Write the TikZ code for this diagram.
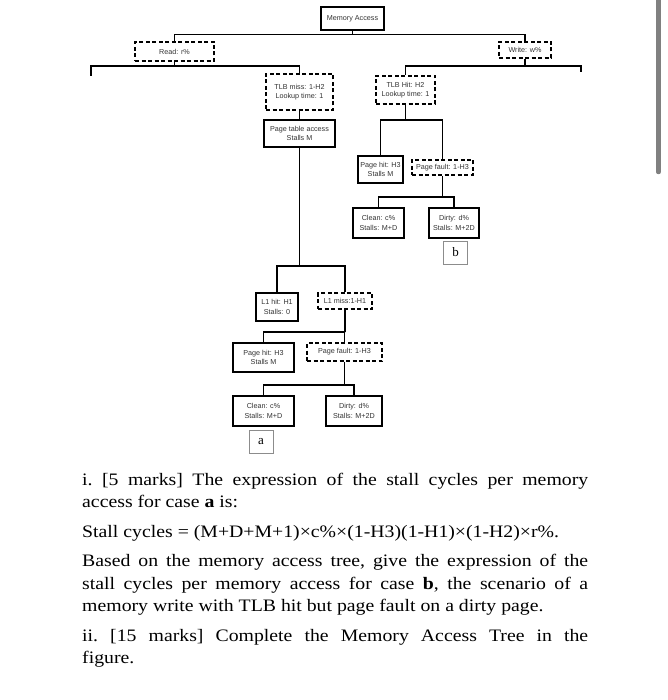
\documentclass[tikz,border=0pt]{standalone}
\usepackage{fontspec}
\setmainfont{Liberation Serif}
\newfontfamily\boxfont{Liberation Sans}
\newfontfamily\questionfont{Liberation Serif}[FakeStretch=1.13]
\usepackage{tikz}

\begin{document}
\begin{tikzpicture}[x=1pt, y=-1pt,
  box/.style={draw, line width=1.3pt, inner sep=0pt, align=center,
    font=\boxfont\fontsize{7.2}{9.4}\selectfont, text=black!80},
  dbox/.style={box, line width=1.7pt, dash pattern=on 4pt off 2.5pt},
  casebox/.style={draw=black!45, line width=0.6pt, inner sep=0pt,
    minimum width=24pt, minimum height=23pt, font=\fontsize{13}{13}\selectfont},
  link/.style={line width=1.9pt}]
  \useasboundingbox (0,0) rectangle (667,700);

  % Root and the read / write split
  \node[box, minimum width=63pt, minimum height=23pt] (ma) at (352.5,18.5) {Memory Access};
  \node[dbox, minimum width=79pt, minimum height=19pt] (rd) at (174.5,51.5) {Read: r\%};
  \node[dbox, minimum width=52pt, minimum height=16pt] (wr) at (525,50) {Write: w\%};

  % TLB level
  \node[dbox, minimum width=67pt, minimum height=36pt] (tm) at (299.5,92) {TLB miss: 1-H2\\Lookup time: 1};
  \node[dbox, minimum width=59pt, minimum height=28pt] (th) at (405.5,90) {TLB Hit: H2\\Lookup time: 1};
  \node[box, minimum width=71pt, minimum height=27pt] (pt) at (299.5,133.5) {Page table access\\Stalls M};

  % Write branch, TLB hit (case b)
  \node[box, minimum width=45pt, minimum height=27pt] (ph2) at (380.5,169.5) {Page hit: H3\\Stalls M};
  \node[dbox, minimum width=61pt, minimum height=15pt] (pf2) at (442.5,167.5) {Page fault: 1-H3};
  \node[box, minimum width=51pt, minimum height=30pt] (cl2) at (378.5,223) {Clean: c\%\\Stalls: M+D};
  \node[box, minimum width=50pt, minimum height=30pt] (dt2) at (454,223) {Dirty: d\%\\Stalls: M+2D};
  \node[casebox] (cb) at (455.5,252.5) {b};

  % Read branch, TLB miss (case a)
  \node[box, minimum width=42pt, minimum height=28pt] (l1h) at (277,307) {L1 hit: H1\\Stalls: 0};
  \node[dbox, minimum width=54pt, minimum height=16pt] (l1m) at (345,301) {L1 miss:1-H1};
  \node[box, minimum width=61pt, minimum height=29pt] (ph1) at (263.5,357.5) {Page hit: H3\\Stalls M};
  \node[dbox, minimum width=75pt, minimum height=18pt] (pf1) at (344.5,352) {Page fault: 1-H3};
  \node[box, minimum width=61pt, minimum height=30pt] (cl1) at (263.5,411) {Clean: c\%\\Stalls: M+D};
  \node[box, minimum width=56pt, minimum height=30pt] (dt1) at (354,411) {Dirty: d\%\\Stalls: M+2D};
  \node[casebox] (ca) at (261,442) {a};

  % Junctions and open ends of the tree
  \coordinate (j0) at (352.5,34.5);
  \coordinate (jr) at (174.5,65.7);
  \coordinate (jw) at (525,65.7);
  \coordinate (rdl) at (91,76);
  \coordinate (wrr) at (581,72);
  \coordinate (jh) at (405.5,120);
  \coordinate (jf2) at (442.5,197);
  \coordinate (jp) at (299.5,266);
  \coordinate (jm) at (345,332);
  \coordinate (jf1) at (344.5,385);

  % Connectors
  \draw[link] (ma.south) -- (j0);
  \draw[link] (rd.north) |- (j0) -| (wr.north);
  \draw[link] (rd.south) -- (jr);
  \draw[link] (rdl) |- (jr) -| (tm.north);
  \draw[link] (wr.south) -- (jw);
  \draw[link] (th.north) |- (jw) -| (wrr);
  \draw[link] (tm.south) -- (pt.north);
  \draw[link] (th.south) -- (jh);
  \draw[link] (ph2.north) |- (jh) -| (pf2.north);
  \draw[link] (pf2.south) -- (jf2);
  \draw[link] (cl2.north) |- (jf2) -| (dt2.north);
  \draw[link] (pt.south) -- (jp);
  \draw[link] (l1h.north) |- (jp) -| (l1m.north);
  \draw[link] (l1m.south) -- (jm);
  \draw[link] (ph1.north) |- (jm) -| (pf1.north);
  \draw[link] (pf1.south) -- (jf1);
  \draw[link] (cl1.north) |- (jf1) -| (dt1.north);

  % Scroll bar at the right edge
  \draw[line width=4.5pt, black!50, line cap=round] (658.5,-5) -- (658.5,172);

  % Question text
  \node[anchor=base west, inner sep=0pt, text width=506pt, align=justify,
    font=\questionfont\fontsize{17.5}{22.5}\selectfont] (qs) at (82,485)
    {\frenchspacing\setlength{\parskip}{7pt}%
    i. [5 marks] The expression of the stall cycles per memory\linebreak
    access for case \textbf{a} is:\par
    Stall cycles = (M+D+M+1)×c\%×(1-H3)(1-H1)×(1-H2)×r\%.\par
    Based on the memory access tree, give the expression of the\linebreak
    stall cycles per memory access for case \textbf{b}, the scenario of a\linebreak
    memory write with TLB hit but page fault on a dirty page.\par
    ii. [15 marks] Complete the Memory Access Tree in the\linebreak
    figure.};
\end{tikzpicture}
\end{document}
